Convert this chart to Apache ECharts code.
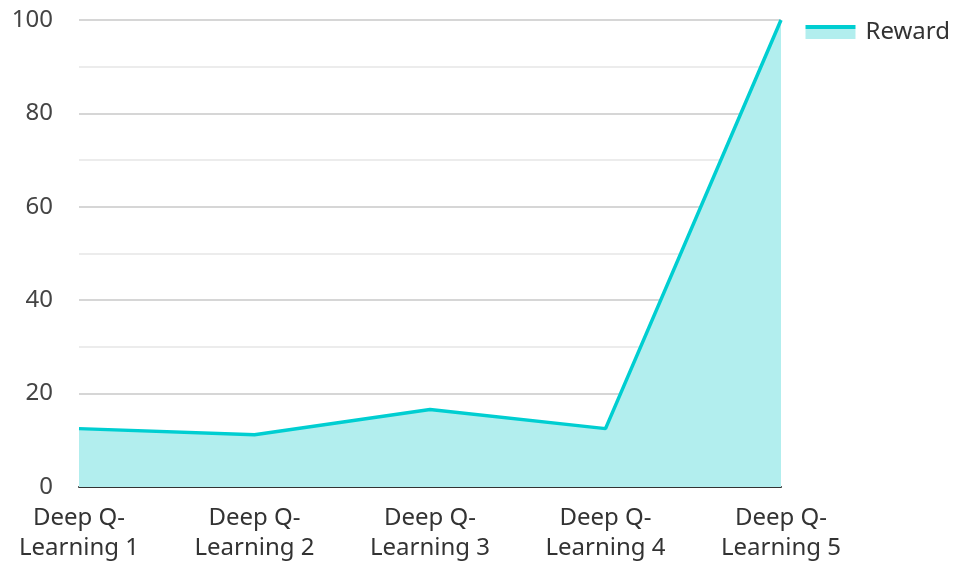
<!DOCTYPE html>
<html>
<head>
<meta charset="utf-8">
<script src="https://cdn.jsdelivr.net/npm/echarts@6/dist/echarts.min.js"></script>
<style>html,body{margin:0;padding:0;background:#fff}#chart{width:955px;height:561px}</style>
</head>
<body>
<div id="chart"></div>
<script>
const categories = ['Deep Q-\nLearning 1', 'Deep Q-\nLearning 2', 'Deep Q-\nLearning 3', 'Deep Q-\nLearning 4', 'Deep Q-\nLearning 5'];
const rewardValues = [12.5, 11.2, 16.6, 12.5, 100];
const seriesName = 'Reward';

const lineColor = '#00CED1';
const areaColor = '#b2eeee';

const chart = echarts.init(document.getElementById('chart'));
const font = '"Noto Sans", sans-serif';
chart.setOption({
  animation: false,
  textStyle: { fontFamily: font },
  grid: { left: 79, right: 174, top: 20, bottom: 74, containLabel: false, outerBoundsMode: 'none' },
  legend: {
    data: [{ name: seriesName, icon: 'rect' }],
    right: 0, top: 15,
    itemWidth: 50, itemHeight: 14, itemGap: 10,
    itemStyle: {
      // solid strip on top for the line, pale band below for the area
      color: new echarts.graphic.LinearGradient(0, 0, 0, 1, [
        { offset: 0, color: lineColor },
        { offset: 0.28, color: lineColor },
        { offset: 0.28, color: areaColor },
        { offset: 1, color: areaColor }
      ]),
      borderWidth: 0
    },
    lineStyle: { width: 0, opacity: 0 },
    textStyle: { fontSize: 24, color: '#333', fontFamily: font, padding: [0, 0, 0, 5] }
  },
  xAxis: {
    type: 'category',
    data: categories,
    boundaryGap: false,
    axisLine: { lineStyle: { color: '#333', width: 2 } },
    axisTick: { show: false },
    axisLabel: { fontSize: 24, color: '#333', lineHeight: 30, margin: 16, interval: 0 }
  },
  yAxis: {
    type: 'value',
    min: 0, max: 100, interval: 20,
    axisLine: { show: false },
    axisTick: { show: false },
    axisLabel: { fontSize: 24, color: '#444', margin: 26 },
    splitLine: { lineStyle: { color: '#c8c8c8', width: 1.5 } },
    minorTick: { show: false, splitNumber: 2 },
    minorSplitLine: { show: true, lineStyle: { color: '#e6e6e6', width: 1.5 } }
  },
  series: [{
    name: seriesName,
    type: 'line',
    data: rewardValues,
    symbol: 'none',
    lineStyle: { color: lineColor, width: 3.5 },
    itemStyle: { color: lineColor },
    areaStyle: { color: areaColor, opacity: 1 }
  }]
});
</script>
</body>
</html>
